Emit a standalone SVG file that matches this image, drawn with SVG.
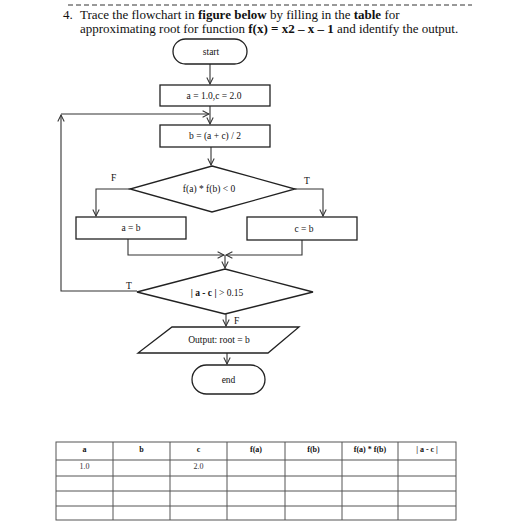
<svg xmlns="http://www.w3.org/2000/svg" width="516" height="530" viewBox="0 0 516 530">
<style>
.t{font-family:"Liberation Serif","Times New Roman",serif;fill:#111}
.title{font-size:13px}
.n{font-size:9.5px;text-anchor:middle;dominant-baseline:central}
.lbl{font-size:9.5px}
.shape{fill:#fff;stroke:#222;stroke-width:1.3}
.c{fill:none;stroke:#333;stroke-width:1.1}
.grid{stroke:#555;stroke-width:1;fill:none}
.th{font-size:8px;font-weight:bold;text-anchor:middle}
.td{font-size:8px;text-anchor:middle;fill:#333}
</style>
<defs>
<marker id="ah" viewBox="0 0 10 10" refX="9" refY="5" markerWidth="8" markerHeight="8" markerUnits="userSpaceOnUse" orient="auto">
<path d="M1,1 L9,5 L1,9" fill="none" stroke="#333" stroke-width="1.3"/>
</marker>
</defs>
<rect width="516" height="530" fill="#fff"/>
<line x1="68" y1="5" x2="472" y2="5" stroke="#333" stroke-width="1" stroke-dasharray="5,3"/>
<text class="t title" x="63" y="19">4.</text>
<text class="t title" x="80" y="19">Trace the flowchart in <tspan font-weight="bold">figure below</tspan> by filling in the <tspan font-weight="bold">table</tspan> for</text>
<text class="t title" x="80" y="33">approximating root for function <tspan font-weight="bold">f(x) = x2 – x – 1</tspan> and identify the output.</text>

<g id="connectors">
<path class="c" d="M210,63 V84" marker-end="url(#ah)"/>
<path class="c" d="M210,106 V124" marker-end="url(#ah)"/>
<path class="c" d="M137,291 H61 V115" marker-end="url(#ah)"/>
<path class="c" d="M61,114 H209" marker-end="url(#ah)"/>
<path class="c" d="M211,147 V165" marker-end="url(#ah)"/>
<path class="c" d="M130,189 H96 V216" marker-end="url(#ah)"/>
<path class="c" d="M295,189 H323 V216" marker-end="url(#ah)"/>
<path class="c" d="M128,239 V255 H224" marker-end="url(#ah)"/>
<path class="c" d="M302,240 V255 H226" marker-end="url(#ah)"/>
<path class="c" d="M225,255 V268" marker-end="url(#ah)"/>
<path class="c" d="M226,314 V326" marker-end="url(#ah)"/>
<path class="c" d="M227,353 V364" marker-end="url(#ah)"/>
<text class="t lbl" x="111" y="181">F</text>
<text class="t lbl" x="304" y="184">T</text>
<text class="t lbl" x="126" y="289">T</text>
<text class="t lbl" x="234" y="324">F</text>
</g>

<g id="start">
<rect class="shape" x="173" y="39" width="74" height="25" rx="12.5"/>
<text class="t n" x="211" y="51.5">start</text>
</g>
<g id="init">
<rect class="shape" x="160" y="85" width="110" height="21"/>
<text class="t n" x="214" y="95.5">a = 1.0,c = 2.0</text>
</g>
<g id="mid">
<rect class="shape" x="160" y="125" width="110" height="22"/>
<text class="t n" x="215" y="136">b = (a + c) / 2</text>
</g>
<g id="cond1">
<polygon class="shape" points="212,166 295,189 212,212 130,189"/>
<text class="t n" x="209" y="189">f(a) * f(b) &lt; 0</text>
</g>
<g id="aeqb">
<rect class="shape" x="76" y="217" width="110" height="22"/>
<text class="t n" x="131" y="228">a = b</text>
</g>
<g id="ceqb">
<rect class="shape" x="247" y="217" width="110" height="23"/>
<text class="t n" x="304" y="228.5">c = b</text>
</g>
<g id="cond2">
<polygon class="shape" points="225,269 313,292 225,314 137,292"/>
<text class="t n" x="217" y="292.5"><tspan font-weight="bold">| a - c |</tspan> &gt; 0.15</text>
</g>
<g id="output">
<polygon class="shape" points="172,327 299,327 268,353 138,353"/>
<text class="t n" x="219" y="340">Output: root = b</text>
</g>
<g id="end">
<rect class="shape" x="192" y="365" width="73" height="29" rx="14.5"/>
<text class="t n" x="228.5" y="379.5">end</text>
</g>

<g id="table">
<rect class="grid" x="56" y="442" width="400" height="78"/>
<path class="grid" d="M113,442 V520 M170,442 V520 M227,442 V520 M285,442 V520 M342,442 V520 M398,442 V520 M56,460 H456 M56,476 H456 M56,491 H456 M56,506 H456"/>
<text class="t th" x="84.5" y="452">a</text>
<text class="t th" x="141.5" y="452">b</text>
<text class="t th" x="198.5" y="452">c</text>
<text class="t th" x="256" y="452">f(a)</text>
<text class="t th" x="313.5" y="452">f(b)</text>
<text class="t th" x="370" y="452">f(a) * f(b)</text>
<text class="t th" x="427" y="452">| a - c |</text>
<text class="t td" x="84.5" y="469">1.0</text>
<text class="t td" x="198.5" y="469">2.0</text>
</g>
</svg>
